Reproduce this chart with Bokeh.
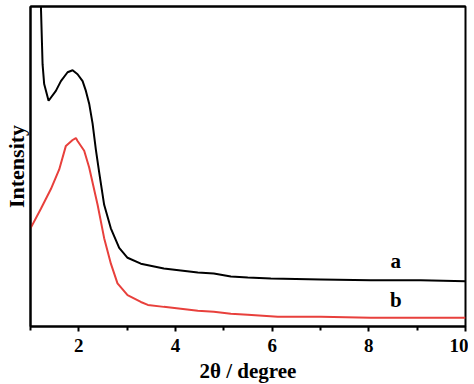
from bokeh.plotting import figure
from bokeh.models import Range1d, FixedTicker, ColumnDataSource, LinearAxis
from bokeh.core.properties import value
from bokeh.embed import file_html
from bokeh.resources import INLINE

# Curve a (black), arbitrary intensity units
a_x = [1.18, 1.215, 1.25, 1.283, 1.374, 1.525, 1.629, 1.767, 1.871, 1.974, 2.078, 2.146,
       2.214, 2.284, 2.353, 2.421, 2.524, 2.662, 2.835, 3.008, 3.283, 3.759, 4.11, 4.462,
       4.793, 5.145, 5.496, 5.972, 7.006, 8.04, 9.074, 10.0]
a_y = [380, 327, 267, 247, 230, 240, 250, 259, 261, 257, 250, 240,
       227, 207, 180, 157, 124, 100, 80, 70, 64, 59, 57, 55,
       54, 51, 50, 49, 48, 47, 47, 46]

# Curve b (red)
b_x = [1.0, 1.215, 1.422, 1.594, 1.732, 1.871, 1.939, 1.974, 2.111, 2.214, 2.388, 2.524,
       2.663, 2.8, 3.008, 3.283, 3.428, 3.759, 4.11, 4.462, 4.793, 5.145, 5.496, 6.116,
       7.006, 8.04, 9.074, 10.0]
b_y = [100, 120, 140, 160, 184, 190, 192, 189, 179, 162, 124, 90,
       64, 44, 32, 25, 22, 20, 18, 16, 15, 13, 12, 10,
       10, 9, 9, 9]

x_ticks = [2, 4, 6, 8, 10]
x_minor = [1, 3, 5, 7, 9]
label_names = ["a", "b"]
label_x = [8.557, 8.557]
label_y = [67, 27]

FONT = "Liberation Serif"

p = figure(frame_width=435, frame_height=320, output_backend="svg",
           toolbar_location=None, x_range=Range1d(1, 10), y_range=Range1d(0, 326),
           min_border_left=25, min_border_top=6, min_border_right=3, min_border_bottom=0)

p.line(a_x, a_y, line_color="black", line_width=2)
p.line(b_x, b_y, line_color="#e8403c", line_width=2)

src = ColumnDataSource(dict(x=label_x, y=label_y, t=label_names))
p.text(x="x", y="y", text="t", source=src, text_font=value(FONT),
       text_font_style="bold", text_font_size="21px", text_align="center",
       text_baseline="middle", text_color="black")

p.grid.visible = False
p.outline_line_color = "black"
p.outline_line_width = 2
p.background_fill_color = "white"
p.border_fill_color = "white"

xa = p.below[0]

top = LinearAxis(ticker=FixedTicker(ticks=[]), axis_line_width=2, axis_line_color="black",
                 major_tick_in=0, major_tick_out=0, minor_tick_in=0, minor_tick_out=0)
p.add_layout(top, "above")

xa.ticker = FixedTicker(ticks=x_ticks, minor_ticks=x_minor)
xa.axis_line_width = 2
xa.axis_line_color = "black"
xa.major_tick_line_width = 2
xa.minor_tick_line_width = 2
xa.major_tick_line_color = "black"
xa.minor_tick_line_color = "black"
xa.major_tick_in = 0
xa.major_tick_out = 5
xa.minor_tick_in = 0
xa.minor_tick_out = 4
xa.major_label_text_font = FONT
xa.major_label_text_font_style = "bold"
xa.major_label_text_font_size = "19px"
xa.major_label_text_color = "black"
xa.major_label_standoff = 7
xa.axis_label = "2θ / degree"
xa.axis_label_text_font = FONT
xa.axis_label_text_font_style = "bold"
xa.axis_label_text_font_size = "21px"
xa.axis_label_text_color = "black"
xa.axis_label_standoff = 4

ya = p.left[0]
ya.ticker = FixedTicker(ticks=[])
ya.axis_line_width = 2
ya.axis_line_color = "black"
ya.major_tick_in = 0
ya.major_tick_out = 0
ya.minor_tick_in = 0
ya.minor_tick_out = 0
ya.axis_label = "Intensity"
ya.axis_label_text_font = FONT
ya.axis_label_text_font_style = "bold"
ya.axis_label_text_font_size = "22px"
ya.axis_label_text_color = "black"
ya.axis_label_standoff = 2

open("out.html", "w").write(file_html(p, INLINE))
